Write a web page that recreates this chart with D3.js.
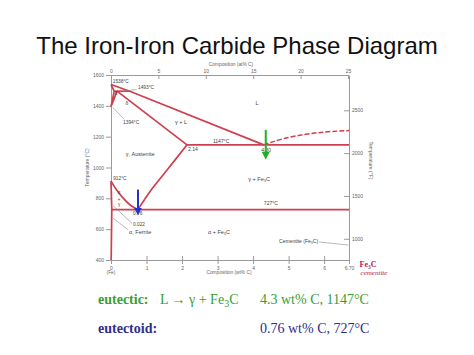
<!DOCTYPE html>
<html>
<head>
<meta charset="utf-8">
<script src="https://cdn.jsdelivr.net/npm/d3@7/dist/d3.min.js"></script>
<style>
  body { margin: 0; background: #fff; }
  svg text { font-family: "Liberation Sans", Arial, sans-serif; }
</style>
</head>
<body>
<div id="chart"></div>
<script>
// phase boundaries as [wt% C, temperature °C]
const liquidus = [[0, 1538], [0.53, 1495], [4.30, 1147]];
const cementiteLiquidus = [[4.30, 1147], [4.8, 1187], [5.5, 1218], [6.1, 1233], [6.70, 1240]];
const deltaSolidus = [[0, 1538], [0.09, 1495]];
const peritectic = [[0.09, 1495], [0.53, 1495]];
const deltaGamma = [[0.09, 1495], [0, 1394], [0.17, 1495]];
const gammaSolidus = [[0.17, 1495], [2.14, 1147]];
const eutecticLine = [[2.14, 1147], [6.70, 1147]];
const acmLine = [[2.14, 1147], [1.6, 990], [1.15, 860], [0.76, 727]];
const a3Line = [[0, 912], [0.15, 858], [0.35, 800], [0.55, 755], [0.76, 727]];
const alphaLine = [[0, 912], [0.022, 727], [0.005, 400]];
const eutectoidLine = [[0.022, 727], [6.70, 727]];

// tick values
const wtTicks = [0, 1, 2, 3, 4, 5, 6, 6.70];
const atTicks = [0, 5, 10, 15, 20, 25];
const tempTicks = [400, 600, 800, 1000, 1200, 1400, 1600];
const fahrTicks = [1000, 1500, 2000, 2500];

// labels inside the diagram: [text, wt% C, °C, anchor, size]
const phaseLabels = [
  ["1538°C", 0.05, 1545, "start", 4.8],
  ["1493°C", 0.76, 1512, "start", 4.8],
  ["δ", 0.14, 1470, "middle", 5],
  ["δ", 0.45, 1408, "middle", 5],
  ["1394°C", 0.34, 1285, "start", 4.8],
  ["γ + L", 1.97, 1285, "middle", 5.5],
  ["L", 4.11, 1405, "middle", 5.5],
  ["γ, Austenite", 0.82, 1075, "middle", 5.5],
  ["1147°C", 3.1, 1158, "middle", 5],
  ["2.14", 2.17, 1108, "start", 5],
  ["4.30", 4.23, 1100, "start", 5],
  ["γ + Fe₃C", 4.17, 912, "middle", 5.5],
  ["727°C", 4.5, 757, "middle", 5],
  ["α + Fe₃C", 3.04, 569, "middle", 5.5],
  ["Cementite (Fe₃C)", 5.83, 510, "end", 5],
  ["912°C", 0.06, 920, "start", 4.8],
  ["α", 0.23, 825, "middle", 4.5],
  ["+", 0.23, 785, "middle", 4.5],
  ["γ", 0.23, 748, "middle", 4.5],
  ["0.76", 0.62, 692, "start", 4.8],
  ["0.022", 0.62, 622, "start", 4.8],
  ["α, Ferrite", 0.51, 569, "start", 5.5]
];
// leader lines: [wt1, T1, wt2, T2]
const leaders = [
  [0.72, 1506, 0.35, 1495],
  [0.05, 1390, 0.37, 1312],
  [0.06, 752, 0.59, 638],
  [0.06, 672, 0.48, 596],
  [5.86, 517, 6.68, 497]
];

const width = 474, height = 355;
const red = "#cf3f4e";

const svg = d3.select("#chart").append("svg")
  .attr("width", width)
  .attr("height", height)
  .style("background", "#fff");

svg.append("text")
  .attr("x", 237)
  .attr("y", 54)
  .attr("text-anchor", "middle")
  .style("font-size", "24px")
  .style("fill", "#111")
  .text("The Iron-Iron Carbide Phase Diagram");

// scales
const x = d3.scaleLinear().domain([0, 6.70]).range([111, 349]);
const xAt = d3.scaleLinear().domain([0, 25]).range([111, 348]);
const y = d3.scaleLinear().domain([400, 1600]).range([260, 75]);
const toF = c => c * 9 / 5 + 32;
const yF = d3.scaleLinear().domain([toF(400), toF(1600)]).range([260, 75]);

const axisColor = "#9a9a9a";
function styleAxis(g, size) {
  g.select(".domain").attr("stroke", axisColor);
  g.selectAll(".tick line").attr("stroke", axisColor);
  g.selectAll(".tick text").style("font-size", size + "px").attr("fill", "#666");
}
const plain = d => String(d);

svg.append("g")
  .attr("transform", `translate(${x(0)},0)`)
  .call(d3.axisLeft(y).tickValues(tempTicks).tickFormat(plain).tickSize(5).tickPadding(2).tickSizeOuter(0))
  .call(g => styleAxis(g, 5));

svg.append("g")
  .attr("transform", `translate(${x(6.70)},0)`)
  .call(d3.axisRight(yF).tickValues(fahrTicks).tickFormat(plain).tickSize(-5).tickPadding(3).tickSizeOuter(0))
  .call(g => styleAxis(g, 5));

svg.append("g")
  .attr("transform", `translate(0,${y(1600)})`)
  .call(d3.axisTop(xAt).tickValues(atTicks).tickFormat(plain).tickSize(-4).tickPadding(2).tickSizeOuter(0))
  .call(g => styleAxis(g, 5));

const bottom = svg.append("g")
  .attr("transform", `translate(0,${y(400)})`)
  .call(d3.axisBottom(x).tickValues(wtTicks).tickSize(4).tickPadding(2).tickSizeOuter(0)
    .tickFormat(d => d === 6.70 ? "6.70" : String(d)))
  .call(g => styleAxis(g, 5));
bottom.selectAll(".tick line").attr("y1", -4);

// axis titles
svg.append("text")
  .attr("x", 231).attr("y", 66)
  .attr("text-anchor", "middle")
  .style("font-size", "4.8px").attr("fill", "#666")
  .text("Composition (at% C)");
svg.append("text")
  .attr("x", 229).attr("y", 274)
  .attr("text-anchor", "middle")
  .style("font-size", "4.8px").attr("fill", "#666")
  .text("Composition (wt% C)");
svg.append("text")
  .attr("x", x(0)).attr("y", 274)
  .attr("text-anchor", "middle")
  .style("font-size", "4.8px").attr("fill", "#666")
  .text("(Fe)");
svg.append("text")
  .attr("transform", `translate(89,${y(1000)}) rotate(-90)`)
  .attr("text-anchor", "middle")
  .style("font-size", "5px").attr("fill", "#666")
  .text("Temperature (°C)");
svg.append("text")
  .attr("transform", `translate(369,${y(1000) - 7}) rotate(90)`)
  .attr("text-anchor", "middle")
  .style("font-size", "5px").attr("fill", "#666")
  .text("Temperature (°F)");

// phase boundaries
const line = d3.line().x(d => x(d[0])).y(d => y(d[1]));
const solid = [liquidus, deltaSolidus, peritectic, deltaGamma, gammaSolidus, eutecticLine,
  alphaLine, eutectoidLine];
svg.selectAll(".boundary")
  .data(solid)
  .enter().append("path")
  .attr("class", "boundary")
  .attr("d", line)
  .attr("fill", "none")
  .attr("stroke", red)
  .attr("stroke-width", 1.7);

svg.selectAll(".curved")
  .data([acmLine, a3Line])
  .enter().append("path")
  .attr("class", "curved")
  .attr("d", d3.line().x(d => x(d[0])).y(d => y(d[1])).curve(d3.curveCatmullRom))
  .attr("fill", "none")
  .attr("stroke", red)
  .attr("stroke-width", 1.7);

svg.append("path")
  .datum(cementiteLiquidus)
  .attr("d", d3.line().x(d => x(d[0])).y(d => y(d[1])).curve(d3.curveBasis))
  .attr("fill", "none")
  .attr("stroke", red)
  .attr("stroke-width", 1.5)
  .attr("stroke-dasharray", "5,2");

// leader lines
svg.selectAll(".leader")
  .data(leaders)
  .enter().append("line")
  .attr("class", "leader")
  .attr("x1", d => x(d[0])).attr("y1", d => y(d[1]))
  .attr("x2", d => x(d[2])).attr("y2", d => y(d[3]))
  .attr("stroke", "#888")
  .attr("stroke-width", 0.6);

svg.selectAll(".phase")
  .data(phaseLabels)
  .enter().append("text")
  .attr("class", "phase")
  .attr("x", d => x(d[1]))
  .attr("y", d => y(d[2]))
  .attr("text-anchor", d => d[3])
  .style("font-size", d => d[4] + "px")
  .attr("fill", "#444")
  .text(d => d[0]);

// arrows at the eutectic and eutectoid points
const defs = svg.append("defs");
function marker(id, color) {
  defs.append("marker")
    .attr("id", id)
    .attr("viewBox", "0 0 10 10")
    .attr("refX", 5).attr("refY", 5)
    .attr("markerWidth", 4).attr("markerHeight", 4)
    .attr("orient", "auto")
    .append("path")
    .attr("d", "M0,0 L10,5 L0,10 Z")
    .attr("fill", color);
}
marker("arrowGreen", "#22b022");
marker("arrowBlue", "#2233c8");

svg.append("line")
  .attr("x1", x(4.30) + 2).attr("y1", y(1147) - 15)
  .attr("x2", x(4.30) + 2).attr("y2", y(1147) + 11)
  .attr("stroke", "#22b022").attr("stroke-width", 2)
  .attr("marker-end", "url(#arrowGreen)");

svg.append("line")
  .attr("x1", x(0.76)).attr("y1", y(727) - 20)
  .attr("x2", x(0.76)).attr("y2", y(727) + 2)
  .attr("stroke", "#2233c8").attr("stroke-width", 2)
  .attr("marker-end", "url(#arrowBlue)");

// Fe3C cementite tag
const fe = svg.append("text")
  .attr("x", 368).attr("y", 267)
  .attr("text-anchor", "middle")
  .style("font-family", "'Liberation Serif', serif")
  .style("font-size", "8px").style("font-weight", "bold")
  .attr("fill", "#b8154f");
fe.append("tspan").text("Fe");
fe.append("tspan").attr("dy", 2).style("font-size", "5.5px").text("3");
fe.append("tspan").attr("dy", -2).text("C");
svg.append("text")
  .attr("x", 374).attr("y", 275)
  .attr("text-anchor", "middle")
  .style("font-family", "'Liberation Serif', serif")
  .style("font-size", "7px").style("font-style", "italic")
  .attr("fill", "#b8154f")
  .text("cementite");

// notes below the diagram
const green = "#35a035", navy = "#2e2e8c";
function note(xPos, yPos, color, bold, parts) {
  const t = svg.append("text")
    .attr("x", xPos).attr("y", yPos)
    .style("font-family", "'Liberation Serif', 'Times New Roman', serif")
    .style("font-size", "14px")
    .style("font-weight", bold ? "bold" : "normal")
    .attr("fill", color);
  parts.forEach(p => {
    const s = t.append("tspan").text(p[0]);
    if (p[1]) s.attr("dy", p[1]);
    if (p[2]) s.style("font-size", p[2]);
  });
}
note(98, 304, green, true, [["eutectic:"]]);
note(160, 304, green, false, [["L → γ + Fe"], ["3", 3, "10px"], ["C", -3]]);
note(260, 304, green, false, [["4.3 wt% C, 1147°C"]]);
note(98, 333, navy, true, [["eutectoid:"]]);
note(260, 333, navy, false, [["0.76 wt% C, 727°C"]]);
</script>
</body>
</html>
